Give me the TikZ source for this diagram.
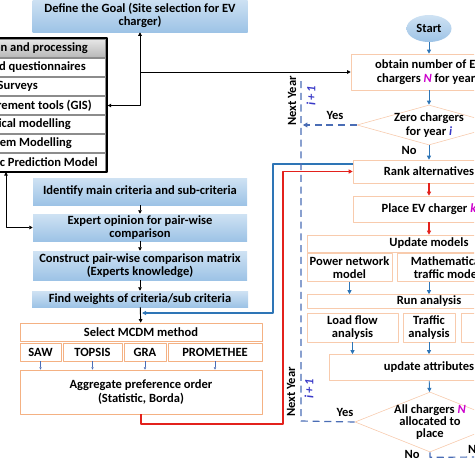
\documentclass[tikz,border=0pt]{standalone}
\usepackage{fontspec}
\setmainfont{Carlito}
\usetikzlibrary{arrows.meta}
\usetikzlibrary{shapes.geometric}
\definecolor{goalblue}{HTML}{9DC3E6}
\definecolor{goaltop}{HTML}{CFE2F3}
\definecolor{peach}{HTML}{F4B183}
\definecolor{lightpeach}{HTML}{F8CBAD}
\definecolor{flowblue}{HTML}{2E75B6}
\definecolor{loopblue}{HTML}{4A6DB5}
\definecolor{flowred}{HTML}{E3211C}
\definecolor{magk}{HTML}{CC00CC}
\definecolor{ipurple}{HTML}{3A3AC8}

\begin{document}
\begin{tikzpicture}[x=0.03cm, y=-0.03cm, % one unit = one pixel of the sketch, y runs down
                    line join=round,
                    every node/.style = {inner sep=0pt, align=center,
                                         font=\fontsize{10.7}{11.6}\selectfont\bfseries},
                    sz/.style n args={2}{minimum width=#1*0.03cm, minimum height=#2*0.03cm},
                    bluebox/.style = {top color=goaltop, bottom color=goalblue},
                    peachbox/.style = {draw=peach, line width=0.6pt, fill=white},
                    softbox/.style = {draw=lightpeach, line width=0.5pt, fill=white},
                    rowbox/.style = {draw=black!45, line width=0.4pt},
                    karr/.style = {-{Triangle[length=3pt,width=3pt]}, line width=0.8pt},
                    kboth/.style = {{Triangle[length=3pt,width=3pt]}-{Triangle[length=3pt,width=3pt]}, line width=0.8pt},
                    barr/.style = {-{Triangle[length=3.5pt,width=3.5pt]}, flowblue, line width=0.8pt},
                    rarr/.style = {-{Triangle[length=3.5pt,width=3.5pt]}, flowred, line width=1pt},
                    thinarr/.style = {-{Triangle[length=2pt,width=2pt]}, loopblue, line width=0.4pt},
                    yearloop/.style = {loopblue, line width=1pt, dash pattern=on 6pt off 4pt}
                   ]
  \useasboundingbox (0,0) rectangle (474,474);
  \clip (0,0) rectangle (474,474);

  % goal and data collection
  \node[bluebox, sz={215}{33}] (goal) at (140,15.5) {Define the Goal (Site selection for EV\\charger)};
  \node[rowbox, sz={115}{18}, top color=black!10, bottom color=black!28] (hdr) at (47.5,48.5) {};
  \node[rowbox, sz={115}{18}] (r1) at (47.5,67.5) {};
  \node[rowbox, sz={115}{18}] (r2) at (47.5,86.5) {};
  \node[rowbox, sz={115}{18}] (r3) at (47.5,105.5) {};
  \node[rowbox, sz={115}{18}] (r4) at (47.5,124.5) {};
  \node[rowbox, sz={115}{18}] (r5) at (47.5,143.5) {};
  \node[rowbox, sz={115}{18}] (r6) at (47.5,162.5) {};
  \node[draw, line width=1.2pt, sz={119}{134}] (data) at (47.5,105) {};
  \node[anchor=east] (thdr) at (88,48.5) {Data collection and processing};
  \node[anchor=east] (t1) at (86,67.5) {Interviews and questionnaires};
  \node[anchor=east] (t2) at (38,86.5) {Field Surveys};
  \node[anchor=east] (t3) at (92,105.5) {Measurement tools (GIS)};
  \node[anchor=east] (t4) at (71,124.5) {Statistical modelling};
  \node[anchor=east] (t5) at (72,143.5) {System Modelling};
  \node[anchor=east] (t6) at (98,162.5) {Traffic Prediction Model};

  % criteria and weights
  \node[bluebox, sz={214}{27}] (ident) at (140,191.5) {Identify main criteria and sub-criteria};
  \node[bluebox, sz={214}{27}] (expert) at (140,227.5) {Expert opinion for pair-wise\\comparison};
  \node[bluebox, sz={214}{29}] (constr) at (140,265.5) {Construct pair-wise comparison matrix\\(Experts knowledge)};
  \node[bluebox, sz={216}{16}] (weights) at (140,299) {Find weights of criteria/sub criteria};

  % MCDM methods
  \node[peachbox, sz={242}{18}] (select) at (141,332) {Select MCDM method};
  \node[peachbox, sz={41}{18}] (saw) at (40.5,352) {SAW};
  \node[peachbox, sz={59}{18}] (topsis) at (92.5,352) {TOPSIS};
  \node[peachbox, sz={42}{18}] (gra) at (145,352) {GRA};
  \node[peachbox, sz={94}{18}] (prom) at (215,352) {PROMETHEE};
  \node[peachbox, sz={242}{44}] (agg) at (141,392) {Aggregate preference order\\(Statistic, Borda)};

  % yearly placement loop
  \node[ellipse, bluebox, sz={45}{27}] (start) at (429,28.5) {Start};
  \node[softbox, sz={156}{36}] (obtain) at (429,72) {obtain number of EV\\chargers \textcolor{magk}{\itshape N} for year \textcolor{ipurple}{\itshape i}};
  \node[diamond, softbox, sz={144}{40}] (zero) at (429,125) {};
  \node (zerot) at (zero.center) {Zero chargers\\for year \textcolor{ipurple}{\itshape i}};
  \node[softbox, sz={152}{23}] (rank) at (429,171.5) {Rank alternatives};
  \node[softbox, sz={152}{26}] (place) at (429,209) {Place EV charger \textcolor{magk}{\itshape k}};
  \node[softbox, sz={244}{17}] (updm) at (429,243.5) {Update models};
  \node[softbox, sz={85}{28}] (power) at (349.5,267.5) {Power network\\model};
  \node[softbox, sz={100}{28}] (math) at (447,267.5) {Mathematical\\traffic model};
  \node[softbox, sz={244}{14}] (run) at (429,301.5) {Run analysis};
  \node[softbox, sz={91}{29}] (lflow) at (352.5,327.5) {Load flow\\analysis};
  \node[softbox, sz={52}{29}] (traffic) at (429,327.5) {Traffic\\analysis};
  \node[softbox, sz={100}{29}] (third) at (511,327.5) {};
  \node[softbox, sz={200}{26}] (attr) at (429,367.5) {update attributes};
  \node[diamond, softbox, sz={150}{60}] (alloc) at (430,422) {};
  \node[font=\fontsize{10.7}{10.4}\selectfont\bfseries] (alloct) at (alloc.center) {All chargers \textcolor{magk}{\itshape N}\\allocated to\\place};

  % links on the left
  \coordinate (dlink) at (6,172);
  \draw[kboth] (goal.south) |- (data.east |- r3.east);
  \draw[karr] (goal.south |- obtain.west) -- (obtain.west);
  \draw[kboth] (dlink) |- (expert.west);
  \draw[karr] (ident) -- (expert);
  \draw[karr] (expert) -- (constr);
  \draw[karr] (constr) -- (weights);
  \draw[karr] (weights) -- (select);
  \draw[thinarr] (saw) -- (saw |- agg.north);
  \draw[thinarr] (topsis) -- (topsis |- agg.north);
  \draw[thinarr] (gra) -- (gra |- agg.north);
  \draw[thinarr] (prom) -- (prom |- agg.north);

  % feedback between the two halves
  \coordinate (rturn) at (283,424);
  \coordinate (bstart) at (353,164);
  \coordinate (bturn) at (273,313);
  \coordinate (bend) at (142,313);
  \draw[rarr] (agg.south) |- (rturn) |- (rank.west);
  \draw[barr, line width=1pt] (bstart) -| (bturn) -- (bend);

  % links on the right
  \draw[barr] (start) -- (obtain);
  \draw[barr] (obtain) -- (zero);
  \draw[barr] (zero) -- (rank);
  \draw[rarr] (rank) -- (place);
  \draw[rarr] (place) -- (updm);
  \draw[barr] (power) -- (power |- run.north);
  \draw[barr] (math.south -| run.north) -- (run.north);
  \draw[barr] (lflow) -- (lflow |- attr.north);
  \draw[barr] (traffic) -- (traffic |- attr.north);
  \draw[barr] (attr) -- (alloc);

  % next year loop
  \coordinate (nytop) at (301,78);
  \coordinate (nybot) at (301,421);
  \draw[yearloop] (alloc.west) -- (nybot) -- (nytop);
  \draw[yearloop, -{Triangle[length=4pt,width=4pt]}, shorten >=1.5pt] (zero.west) -- (zero.west -| nytop);
  \draw[yearloop] (alloc.south) -- ++(0,5) -- (480,457);
  \node[rotate=90] (ny1) at (292,101) {Next Year};
  \node[rotate=90, text=ipurple] (ip1) at (311,96) {\itshape i\,+\,1};
  \node[rotate=90] (ny2) at (291,392) {Next Year};
  \node[rotate=90, text=ipurple] (ip2) at (309,389) {\itshape i\,+\,1};
  \node (yes1) at (335,115) {Yes};
  \node (no1) at (409,150) {No};
  \node (yes2) at (345,412) {Yes};
  \node (no2) at (412,454) {No};
  \node[anchor=west] (nx) at (468,449) {Next};
\end{tikzpicture}
\end{document}
